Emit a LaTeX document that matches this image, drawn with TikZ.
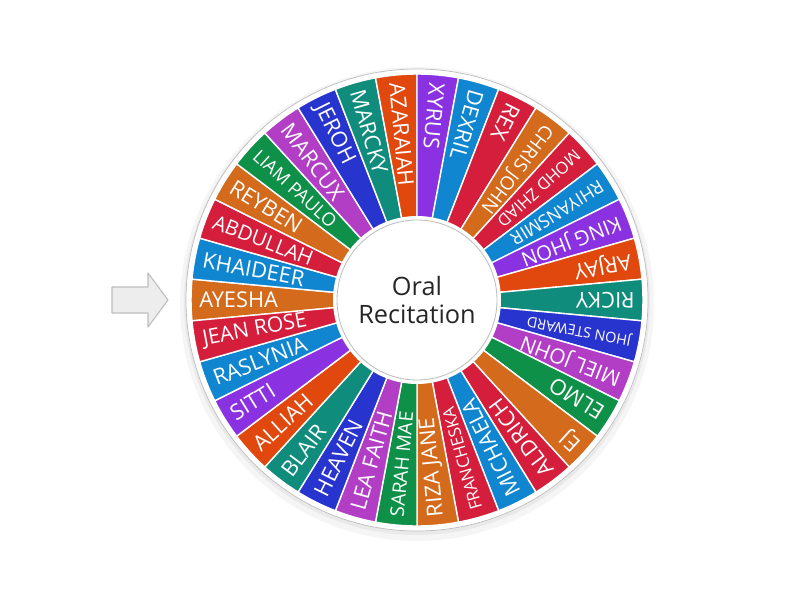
\documentclass[tikz,border=0pt]{standalone}
\usepackage{fontspec}
\setmainfont{Open Sans}
\usepackage{graphicx}
\usepackage{tikz}
\usetikzlibrary{calc}
\definecolor{wheelorange}{RGB}{211,106,28}
\definecolor{wheelblue}{RGB}{16,134,208}
\definecolor{wheelred}{RGB}{212,30,60}
\definecolor{wheelgreen}{RGB}{15,144,72}
\definecolor{wheelmagenta}{RGB}{178,62,198}
\definecolor{wheelindigo}{RGB}{40,52,206}
\definecolor{wheelteal}{RGB}{16,140,125}
\definecolor{wheelflame}{RGB}{224,72,14}
\definecolor{wheelviolet}{RGB}{138,50,226}
\definecolor{rimgray}{RGB}{190,190,190}

% long names are shrunk to fit the slice
\newsavebox\namebox
\newlength\maxnamewd
\setlength\maxnamewd{75pt}
\newcommand{\wheelname}[1]{\sbox\namebox{#1}%
  \ifdim\wd\namebox>\maxnamewd\resizebox{\maxnamewd}{!}{\usebox\namebox}%
  \else\usebox\namebox\fi}

\begin{document}
\begin{tikzpicture}[
  x=0.025cm, y=0.025cm,
  slice/.style={draw=white, line width=1pt},
  namelabel/.style={text=white, inner sep=0pt, anchor=west,
                    font=\fontsize{15.5}{18}\selectfont},
  pointer/.style={fill=black!7, draw=rimgray, line width=0.8pt, line join=round}
]
  \useasboundingbox (0,0) rectangle (800,600);
  \coordinate (c) at (417,300);

  % soft shadow and rim
  \fill[black, opacity=0.04] ($(c)+(0,-4)$) circle (237);
  \fill[black, opacity=0.05] ($(c)+(0,-2)$) circle (233);
  \fill[white] (c) circle (231);
  \draw[rimgray, line width=0.5pt] (c) circle (231);

  \foreach \who/\col [count=\i from 0] in {
      AYESHA/wheelorange, KHAIDEER/wheelblue, ABDULLAH/wheelred,
      REYBEN/wheelorange, LIAM PAULO/wheelgreen, MARCUX/wheelmagenta,
      JEROH/wheelindigo, MARCKY/wheelteal, AZARAIAH/wheelflame,
      XYRUS/wheelviolet, DEXRIL/wheelblue, REX/wheelred,
      CHRIS JOHN/wheelorange, MOHD ZHIAD/wheelred, RHIYANSMIR/wheelblue,
      KING JHON/wheelviolet, ARJAY/wheelflame, RICKY/wheelteal,
      JHON STEWARD/wheelindigo, MIEL JOHN/wheelmagenta, ELMO/wheelgreen,
      EJ/wheelorange, ALDRICH/wheelred, MICHAELA/wheelblue,
      FRANCHESKA/wheelred, RIZA JANE/wheelorange, SARAH MAE/wheelgreen,
      LEA FAITH/wheelmagenta, HEAVEN/wheelindigo, BLAIR/wheelteal,
      ALLIAH/wheelflame, SITTI/wheelviolet, RASLYNIA/wheelblue,
      JEAN ROSE/wheelred} {
    \pgfmathsetmacro\a{180-\i*360/34}
    \filldraw[slice, fill=\col] (c) -- ($(c)+(\a-180/34:226)$)
      arc[start angle=\a-180/34, end angle=\a+180/34, radius=226] -- cycle;
    \node[namelabel, rotate=\a+180] (seg\i) at ($(c)+(\a:218)$) {\wheelname{\who}};
  }

  % hub
  \fill[white] (c) circle (84);
  \draw[rimgray, line width=0.6pt, fill=white] (c) circle (80);
  \node[align=center, text=black!85, font=\fontsize{18}{19.5}\selectfont] (title) at (c) {Oral\\Recitation};

  % pointer
  \draw[pointer] (112,287) -- (148,287) -- (148,273) -- (168,300)
    -- (148,327) -- (148,313) -- (112,313) -- cycle;
\end{tikzpicture}
\end{document}
